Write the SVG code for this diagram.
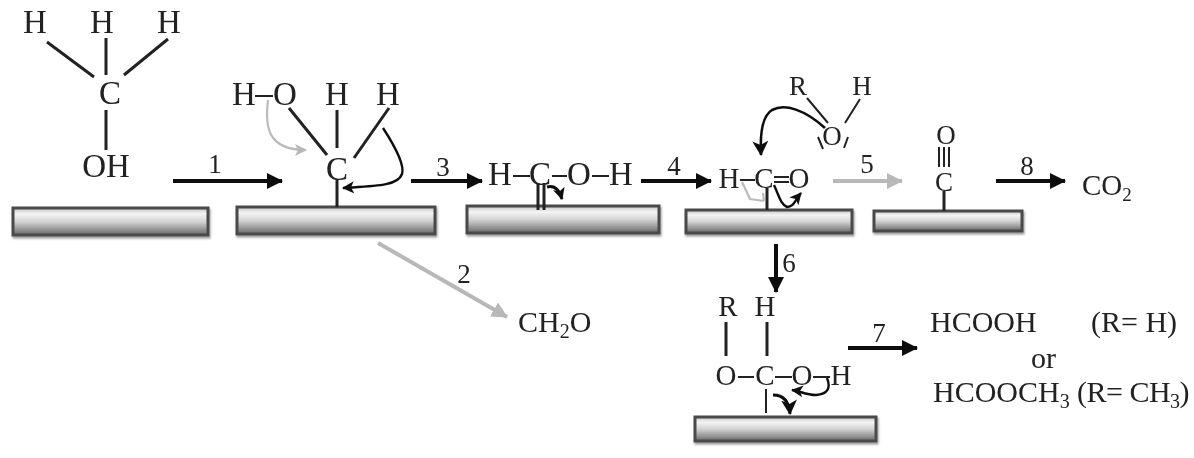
<svg xmlns="http://www.w3.org/2000/svg" width="1194" height="458" viewBox="0 0 1194 458">
<style>
text{font-family:"Liberation Serif","Times New Roman",serif;fill:#222}
.t{font-size:33px;text-anchor:middle}
.m{font-size:29px;text-anchor:middle}
.s{font-size:27px;text-anchor:middle}
.n{font-size:27px;text-anchor:middle}
.p{font-size:30px}
.b{stroke:#222;stroke-width:3;fill:none}
.f{stroke:#222;stroke-width:2;fill:none}
.a{stroke:#111;stroke-width:4;fill:none;marker-end:url(#k)}
.g{stroke:#b8b8b8;stroke-width:4;fill:none;marker-end:url(#h)}
.c{stroke:#111;stroke-width:2.4;fill:none;marker-end:url(#k2)}
.slab{fill:url(#sl);stroke:#4a4a4a;stroke-width:3}
</style>
<defs>
<linearGradient id="sl" x1="0" y1="0" x2="0" y2="1"><stop offset="0" stop-color="#c4c4c4"/><stop offset=".22" stop-color="#f4f4f4"/><stop offset=".5" stop-color="#d4d4d4"/><stop offset="1" stop-color="#686868"/></linearGradient>
<filter id="sh" x="-5%" y="-20%" width="110%" height="150%"><feDropShadow dx="1" dy="2" stdDeviation="1.2" flood-color="#999"/></filter>
<filter id="soft" filterUnits="userSpaceOnUse" x="0" y="0" width="1194" height="458"><feGaussianBlur stdDeviation="0.45"/></filter>
<marker id="k" markerUnits="userSpaceOnUse" markerWidth="18" markerHeight="18" refX="15" refY="9" orient="auto"><path d="M0 1L16 9L0 17Z" fill="#111"/></marker>
<marker id="h" markerUnits="userSpaceOnUse" markerWidth="18" markerHeight="18" refX="15" refY="9" orient="auto"><path d="M0 1L16 9L0 17Z" fill="#b8b8b8"/></marker>
<marker id="k2" markerUnits="userSpaceOnUse" markerWidth="14" markerHeight="14" refX="11" refY="7" orient="auto"><path d="M0 1L12 7L0 13L3 7Z" fill="#111"/></marker>
<marker id="k3" markerUnits="userSpaceOnUse" markerWidth="18" markerHeight="18" refX="14" refY="9" orient="auto"><path d="M0 1L15 9L0 17L4 9Z" fill="#111"/></marker>
<marker id="h2" markerUnits="userSpaceOnUse" markerWidth="14" markerHeight="14" refX="11" refY="7" orient="auto"><path d="M0 1L12 7L0 13L3 7Z" fill="#b8b8b8"/></marker>
</defs>
<g filter="url(#soft)">
<g id="connectors">
<path class="a" d="M173 181H282"/>
<path class="a" d="M411 181H482"/>
<path class="a" d="M641 181H711"/>
<path class="g" d="M833 181H902"/>
<path class="a" d="M996 181H1065"/>
<path class="g" d="M378 243L507 317"/>
<path class="a" d="M776 244V292"/>
<path class="a" d="M848 348H917"/>
</g>

<g id="labels">
<text class="n" x="215" y="173">1</text>
<text class="n" x="443" y="176">3</text>
<text class="n" x="674" y="175">4</text>
<text class="n" x="867" y="173">5</text>
<text class="n" x="1027" y="175">8</text>
<text class="n" x="464" y="283">2</text>
<text class="n" x="789" y="272">6</text>
<text class="n" x="879" y="342">7</text>
</g>

<g id="methanol">
<rect class="slab" filter="url(#sh)" x="13" y="208" width="195" height="27"/>
<text class="t" x="35" y="33">H</text><text class="t" x="102" y="33">H</text><text class="t" x="169" y="33">H</text>
<text class="t" x="110" y="104">C</text><text class="t" x="106" y="177">OH</text>
<path class="b" d="M47 42L94 77M106 38V75M168 39L124 75M106 110V150"/>
</g>

<g id="methoxy">
<rect class="slab" filter="url(#sh)" x="237" y="207" width="198" height="27"/>
<text class="t" x="244" y="105">H</text><text class="t" x="285" y="105">O</text>
<text class="t" x="337" y="105">H</text><text class="t" x="388" y="105">H</text>
<text class="t" x="337" y="180">C</text>
<path class="f" d="M255 96H273"/>
<path class="b" d="M289 108L327 155M337 110V148M389 108L354 158M337 180V207"/>
<path d="M268 100C265 125 266 150 306 150" fill="none" stroke="#bbb" stroke-width="2.2" marker-end="url(#h2)"/>
<path class="c" d="M383 128C396 148 405 165 402 174C398 186 375 186 343 188"/>
</g>

<g id="hydroxymethyl">
<rect class="slab" filter="url(#sh)" x="467" y="206" width="192" height="27"/>
<text class="t" x="500" y="185">H</text><text class="t" x="540" y="185">C</text><text class="t" x="579" y="185">O</text><text class="t" x="621" y="185">H</text>
<path class="f" d="M513 176H530M552 176H567M592 176H609"/>
<path class="b" d="M538 183V210M544 183V210"/>
<path d="M547 187C554 185 559 189 562 199" stroke="#111" stroke-width="3" fill="none" marker-end="url(#k2)"/>
</g>

<g id="formyl">
<rect class="slab" filter="url(#sh)" x="686" y="210" width="166" height="23"/>
<text class="m" x="729" y="188">H</text><text class="m" x="764" y="188">C</text><text class="m" x="799" y="188">O</text>
<text class="s" x="798" y="95">R</text><text class="s" x="862" y="95">H</text>
<text class="s" x="832" y="145">O</text>
<path class="f" d="M740 180H755M774 177H789M774 182H789M807 98L828 123M860 99L845 123M818 137L823 149M848 137L844 148"/>
<path class="b" d="M767 188V210"/>
<path d="M825 128C805 110 785 103 772 110C762 116 760 135 761 155" stroke="#111" stroke-width="2.6" fill="none" marker-end="url(#k3)"/>
<path class="c" d="M774 185C779 196 781 205 787 207C794 207 795 200 801 193" stroke-width="2"/>
<path d="M742 182L750 199L764 201M764 201L763 193" fill="none" stroke="#bbb" stroke-width="2.2"/>
</g>

<g id="carbonyl">
<rect class="slab" filter="url(#sh)" x="874" y="211" width="148" height="20"/>
<text class="s" x="946" y="144">O</text><text class="s" x="944" y="191">C</text>
<path class="f" d="M939 147V167M944 147V167M949 147V167"/>
<path class="b" d="M944 191V211"/>
</g>

<g id="co2">
<text font-size="29" x="1082" y="195">CO<tspan font-size="19" dy="6">2</tspan></text>
</g>

<g id="ch2o">
<text class="p" x="518" y="332">CH<tspan font-size="20" dy="6">2</tspan><tspan dy="-6">O</tspan></text>
</g>

<g id="intermediate">
<rect class="slab" filter="url(#sh)" x="695" y="417" width="181" height="24"/>
<text class="m" x="728" y="316">R</text><text class="m" x="765" y="316">H</text>
<text class="m" x="726" y="385">O</text><text class="m" x="765" y="385">C</text><text class="m" x="802" y="385">O</text><text class="m" x="841" y="385">H</text>
<path class="b" d="M726 322V356M767 322V356"/>
<path class="f" d="M738 377H754M775 377H792M813 377H830M766 389V413"/>
<path class="c" d="M827 378C831 388 828 394 816 395C806 395 800 391 792 390"/>
<path d="M773 395C782 395 789 400 790 414" stroke="#111" stroke-width="3" fill="none" marker-end="url(#k3)"/>
</g>

<g id="products">
<text class="p" x="930" y="332">HCOOH</text>
<text class="p" x="1091" y="332">(R= H)</text>
<text class="p" x="1031" y="368">or</text>
<text class="p" x="933" y="402">HCOOCH<tspan font-size="20" dy="6">3</tspan></text>
<text class="p" x="1077" y="402" letter-spacing="-0.5">(R= CH<tspan font-size="20" dy="6">3</tspan><tspan dy="-6">)</tspan></text>
</g>
</g>
</svg>
